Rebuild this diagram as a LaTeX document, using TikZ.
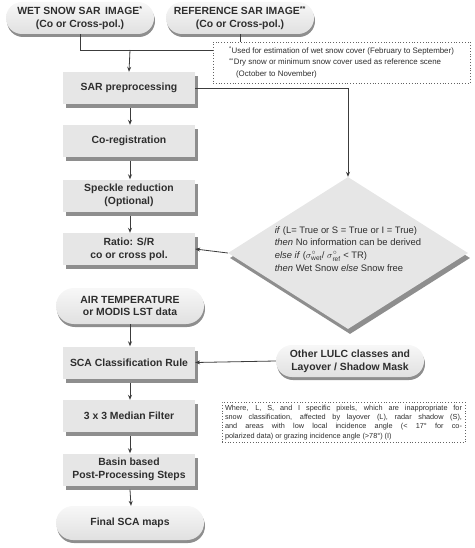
\documentclass[tikz,border=0pt]{standalone}
\usepackage{fontspec}
\setmainfont{Liberation Sans}
\usetikzlibrary{shapes.geometric,shapes.misc,arrows.meta,shadows}
\definecolor{boxfill}{HTML}{E6E6E6}
\definecolor{shade}{HTML}{8E8E8E}
\definecolor{lin}{HTML}{3C3C3C}
\definecolor{txt}{HTML}{2E2E2E}
\begin{document}
\begin{tikzpicture}[x=1pt,y=-1pt,
  box/.style={rectangle, fill=boxfill, minimum width=132pt, minimum height=32pt, align=center,
    font=\bfseries\fontsize{10.4}{12.8}\selectfont, text=txt, inner sep=1pt,
    drop shadow={shadow xshift=3pt, shadow yshift=-4pt, fill=shade, opacity=1}},
  pill/.style={rounded rectangle, top color=gray!6, bottom color=gray!24, minimum width=150pt,
    minimum height=32pt, align=center, font=\bfseries\fontsize{10.4}{12.8}\selectfont, text=txt, inner sep=1pt,
    drop shadow={shadow xshift=1pt, shadow yshift=-3pt, fill=shade, opacity=1}},
  note/.style={rectangle, draw=lin!80, dotted, thick, fill=white, inner sep=3pt, text=txt},
  conn/.style={draw=lin, line width=0.8pt},
  arr/.style={conn, -{Stealth[length=5pt,width=4pt]}}]
\useasboundingbox (0,0) rectangle (474,548);

% diamond
\node[diamond, minimum width=240pt, minimum height=152pt, inner sep=0pt, fill=boxfill,
  drop shadow={shadow xshift=2pt, shadow yshift=-5pt, fill=shade, opacity=1}] (dia) at (348,253) {};
\node[align=left, font=\fontsize{9.4}{12.8}\selectfont, text=txt] (dt) at (348,249)
  {\textit{if} (L= True or S = True or I = True)\\
   \textit{then} No information can be derived\\
   \textit{else if} ($\sigma^{\circ}_{\mathrm{wet}}$/ $\sigma^{\circ}_{\mathrm{ref}}$ < TR)\\
   \textit{then} Wet Snow \textit{else} Snow free};

% pills
\node[pill] (wet) at (80,18) {WET SNOW SAR\, IMAGE\textsuperscript{*}\\(Co or Cross-pol.)};
\node[pill] (ref) at (240,18) {REFERENCE SAR IMAGE\textsuperscript{**}\\(Co or Cross-pol.)};
\node[pill, minimum height=36pt] (air) at (130,306) {AIR TEMPERATURE\\or MODIS LST data};
\node[pill] (oth) at (350,361) {Other LULC classes and\\Layover / Shadow Mask};
\node[pill, minimum height=34pt] (fin) at (130,523) {Final SCA maps};

% boxes
\node[box] (sar) at (129,88) {SAR preprocessing};
\node[box] (cor) at (129,141) {Co-registration};
\node[box] (spk) at (129,195.5) {Speckle reduction\\(Optional)};
\node[box] (rat) at (129,249) {Ratio: S/R\\co or cross pol.};
\node[box] (sca) at (129,362.5) {SCA Classification Rule};
\node[box] (med) at (129,416) {3 x 3 Median Filter};
\node[box] (bas) at (129,469.5) {Basin based\\Post-Processing Steps};

% connectors
\coordinate (j) at (130,50);
\draw[conn] (wet.south) |- (ref.south |- j) -- (ref.south);
\draw[arr] (j) -- (sar.north);
\draw[arr] (sar.east) -| (dia.north);
\draw[arr] (sar.south) ++(1,4) -- ([xshift=1pt]cor.north);
\draw[arr] (cor.south) ++(1,4) -- ([xshift=1pt]spk.north);
\draw[arr] (spk.south) ++(1,4) -- ([xshift=1pt]rat.north);
\draw[arr] (dia.west) -- (rat.east);
\draw[arr] (air.south) -- ([xshift=1pt]sca.north);
\draw[arr] (oth.west) -- (sca.east);
\draw[arr] (sca.south) ++(1,4) -- ([xshift=1pt]med.north);
\draw[arr] (med.south) ++(1,4) -- ([xshift=1pt]bas.north);
\draw[arr] (bas.south) ++(1,4) -- ([xshift=1pt]fin.north);

% notes
\node[note, minimum width=257pt, minimum height=41pt, align=left, font=\fontsize{7.9}{11.8}\selectfont] (n1) at (341.5,62.5)
  {\textsuperscript{*}Used for estimation of wet snow cover (February to September)\\
   \textsuperscript{**}Dry snow or minimum snow cover used as reference scene\\
   \hspace*{7pt}(October to November)};
\node[note, text width=237pt, align=justify, font=\fontsize{7.3}{9.2}\selectfont] (n2) at (343.5,422.5)
  {Where, L, S, and I specific pixels, which are inappropriate for\linebreak
   snow classification, affected by layover (L), radar shadow (S),\linebreak
   and areas with low local incidence angle (< 17° for co-\linebreak
   polarized data) or grazing incidence angle (>78°) (I)};
\end{tikzpicture}
\end{document}
